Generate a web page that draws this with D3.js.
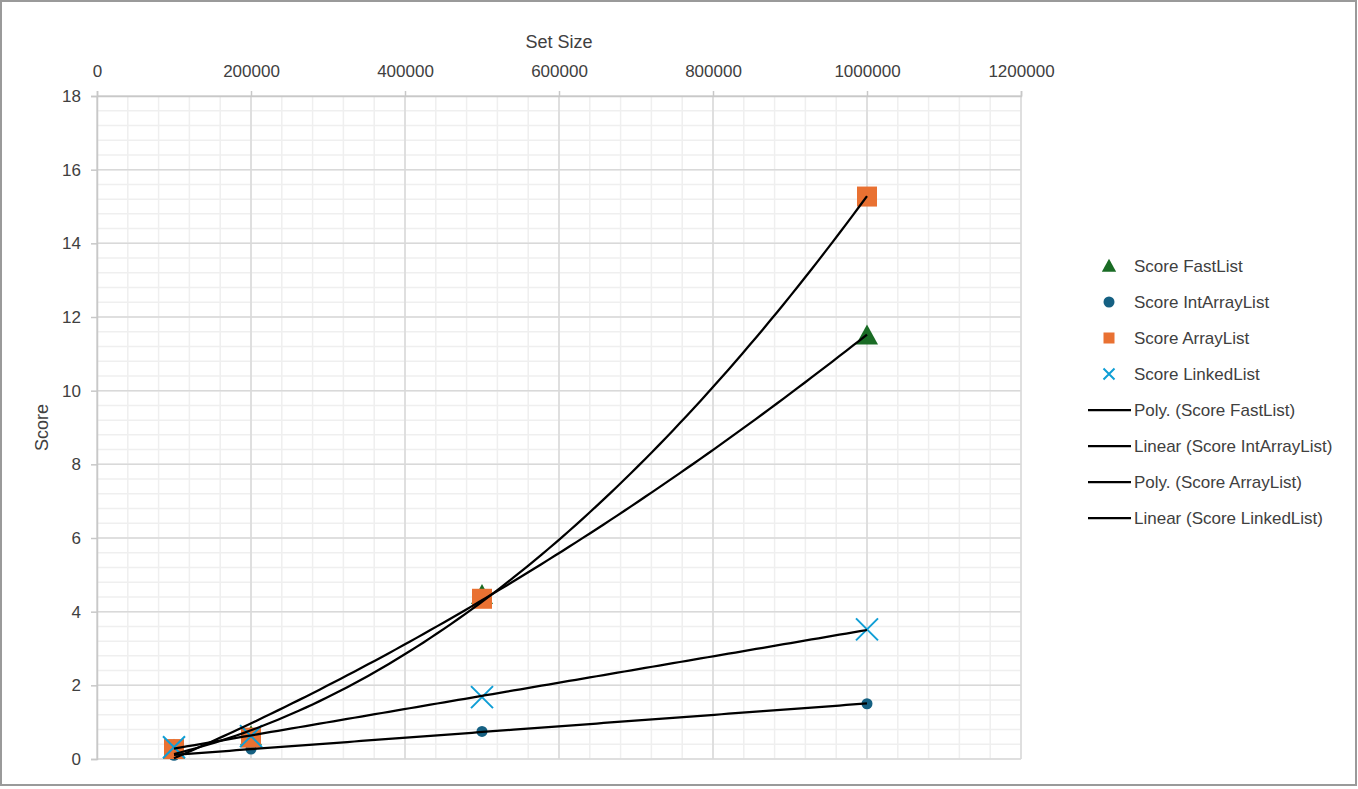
<!DOCTYPE html>
<html>
<head>
<meta charset="utf-8">
<script src="https://cdn.jsdelivr.net/npm/d3@7"></script>
<style>
  body { margin: 0; background: #fff; }
  svg text { font-family: "Liberation Sans", Arial, sans-serif; fill: #404040; }
</style>
</head>
<body>
<div id="chart"></div>
<script>
// data
const setSizes = [100000, 200000, 500000, 1000000];
const fastList = [0.25, 0.62, 4.45, 11.5];
const intArrayList = [0.1, 0.27, 0.75, 1.5];
const arrayList = [0.27, 0.58, 4.35, 15.27];
const linkedList = [0.32, 0.62, 1.68, 3.52];

const xTicks = [0, 200000, 400000, 600000, 800000, 1000000, 1200000];
const yTicks = [0, 2, 4, 6, 8, 10, 12, 14, 16, 18];

const series = [
    { name: 'Score FastList', values: fastList, color: '#196B24', shape: 'triangle', fit: 'poly', fitName: 'Poly. (Score FastList)' },
    { name: 'Score IntArrayList', values: intArrayList, color: '#156082', shape: 'circle', fit: 'linear', fitName: 'Linear (Score IntArrayList)' },
    { name: 'Score ArrayList', values: arrayList, color: '#E97132', shape: 'square', fit: 'poly', fitName: 'Poly. (Score ArrayList)' },
    { name: 'Score LinkedList', values: linkedList, color: '#0F9ED5', shape: 'cross', fit: 'linear', fitName: 'Linear (Score LinkedList)' }
];

const width = 1358, height = 789;
const margin = { top: 96, left: 97, right: 337, bottom: 30 };

const svg = d3.select('#chart').append('svg')
    .attr('width', width)
    .attr('height', height);

svg.append('rect')
    .attr('x', 1).attr('y', 1)
    .attr('width', width - 3).attr('height', height - 5)
    .attr('fill', '#fff')
    .attr('stroke', '#9a9a9a')
    .attr('stroke-width', 2);

const x = d3.scaleLinear().domain([0, 1200000]).range([margin.left, width - margin.right]);
const y = d3.scaleLinear().domain([0, 18]).range([height - margin.bottom, margin.top]);

// minor grid
const xMinor = d3.range(0, 1200001, 40000);
const yMinor = d3.range(0, 18.001, 0.4);
const grid = svg.append('g');
grid.selectAll('.xm').data(xMinor).enter().append('line')
    .attr('x1', d => x(d)).attr('x2', d => x(d))
    .attr('y1', y(0)).attr('y2', y(18))
    .attr('stroke', '#efefef').attr('stroke-width', 1.5);
grid.selectAll('.ym').data(yMinor).enter().append('line')
    .attr('y1', d => y(d)).attr('y2', d => y(d))
    .attr('x1', x(0)).attr('x2', x(1200000))
    .attr('stroke', '#efefef').attr('stroke-width', 1.5);
// major grid
grid.selectAll('.xM').data(xTicks).enter().append('line')
    .attr('x1', d => x(d)).attr('x2', d => x(d))
    .attr('y1', y(0)).attr('y2', y(18))
    .attr('stroke', '#d9d9d9').attr('stroke-width', 1.5);
grid.selectAll('.yM').data(yTicks).enter().append('line')
    .attr('y1', d => y(d)).attr('y2', d => y(d))
    .attr('x1', x(0)).attr('x2', x(1200000))
    .attr('stroke', '#d9d9d9').attr('stroke-width', 1.5);

// axes
const xAxis = svg.append('g')
    .attr('transform', `translate(0,${y(18)})`)
    .call(d3.axisTop(x).tickValues(xTicks).tickFormat(d3.format('d')).tickSize(5).tickPadding(14));
const yAxis = svg.append('g')
    .attr('transform', `translate(${x(0)},0)`)
    .call(d3.axisLeft(y).tickValues(yTicks).tickSize(6).tickPadding(10));
[xAxis, yAxis].forEach(a => {
    a.select('.domain').attr('stroke', '#c8c8c8').attr('stroke-width', 1.5);
    a.selectAll('.tick line').attr('stroke', '#c8c8c8').attr('stroke-width', 1.5);
    a.selectAll('.tick text').attr('font-size', 17).style('fill', '#404040');
});

svg.append('text')
    .attr('x', 559).attr('y', 48)
    .attr('text-anchor', 'middle')
    .attr('font-size', 18)
    .text('Set Size');
svg.append('text')
    .attr('transform', `translate(48,${y(9)}) rotate(-90)`)
    .attr('text-anchor', 'middle')
    .attr('font-size', 18)
    .text('Score');

// markers
function drawMarker(g, shape, color, cx, cy, s) {
    if (shape === 'triangle') {
        g.append('path')
            .attr('d', `M${cx},${cy - s * 0.55}L${cx + s * 0.55},${cy + s * 0.45}L${cx - s * 0.55},${cy + s * 0.45}Z`)
            .attr('fill', color);
    } else if (shape === 'circle') {
        g.append('circle').attr('cx', cx).attr('cy', cy).attr('r', s / 2).attr('fill', color);
    } else if (shape === 'square') {
        g.append('rect').attr('x', cx - s / 2).attr('y', cy - s / 2)
            .attr('width', s).attr('height', s).attr('fill', color);
    } else {
        const h = s / 2;
        g.append('path')
            .attr('d', `M${cx - h},${cy - h}L${cx + h},${cy + h}M${cx + h},${cy - h}L${cx - h},${cy + h}`)
            .attr('stroke', color).attr('stroke-width', 2).attr('fill', 'none');
    }
}

const markerSize = { triangle: 20, circle: 11, square: 20, cross: 22 };
const marks = svg.append('g');
series.forEach(s => {
    s.values.forEach((v, i) => drawMarker(marks, s.shape, s.color, x(setSizes[i]), y(v), markerSize[s.shape]));
});

// trendlines (least squares)
function fitLine(xs, ys, order) {
    const n = order + 1;
    const A = [];
    for (let r = 0; r < n; r++) {
        A.push([]);
        for (let c = 0; c < n; c++) A[r].push(d3.sum(xs, xv => Math.pow(xv, r + c)));
        A[r].push(d3.sum(xs, (xv, i) => Math.pow(xv, r) * ys[i]));
    }
    for (let i = 0; i < n; i++) {
        for (let k = i + 1; k < n; k++) {
            const f = A[k][i] / A[i][i];
            for (let j = i; j <= n; j++) A[k][j] -= f * A[i][j];
        }
    }
    const coef = new Array(n).fill(0);
    for (let i = n - 1; i >= 0; i--) {
        let s = A[i][n];
        for (let j = i + 1; j < n; j++) s -= A[i][j] * coef[j];
        coef[i] = s / A[i][i];
    }
    return t => coef.reduce((acc, c, i) => acc + c * Math.pow(t, i), 0);
}

const line = d3.line().x(d => x(d[0])).y(d => y(d[1]));
const xsScaled = setSizes.map(d => d / 100000);
series.forEach(s => {
    const f = fitLine(xsScaled, s.values, s.fit === 'poly' ? 2 : 1);
    const pts = d3.range(0, 101).map(i => {
        const t = 1 + 9 * i / 100;
        return [t * 100000, f(t)];
    });
    svg.append('path')
        .attr('d', line(pts))
        .attr('fill', 'none')
        .attr('stroke', '#000')
        .attr('stroke-width', 2.25);
});

// legend
const legend = svg.append('g');
const legendMarker = { triangle: 13, circle: 11, square: 11, cross: 11 };
series.forEach((s, i) => {
    const ly = 266 + i * 36;
    drawMarker(legend, s.shape, s.color, 1109, ly, legendMarker[s.shape]);
    legend.append('text').attr('x', 1134).attr('y', ly).attr('dy', '0.35em')
        .attr('font-size', 17).text(s.name);
});
series.forEach((s, i) => {
    const ly = 266 + (i + 4) * 36;
    legend.append('line').attr('x1', 1088).attr('x2', 1131)
        .attr('y1', ly).attr('y2', ly)
        .attr('stroke', '#000').attr('stroke-width', 2.25);
    legend.append('text').attr('x', 1134).attr('y', ly).attr('dy', '0.35em')
        .attr('font-size', 17).text(s.fitName);
});
</script>
</body>
</html>
